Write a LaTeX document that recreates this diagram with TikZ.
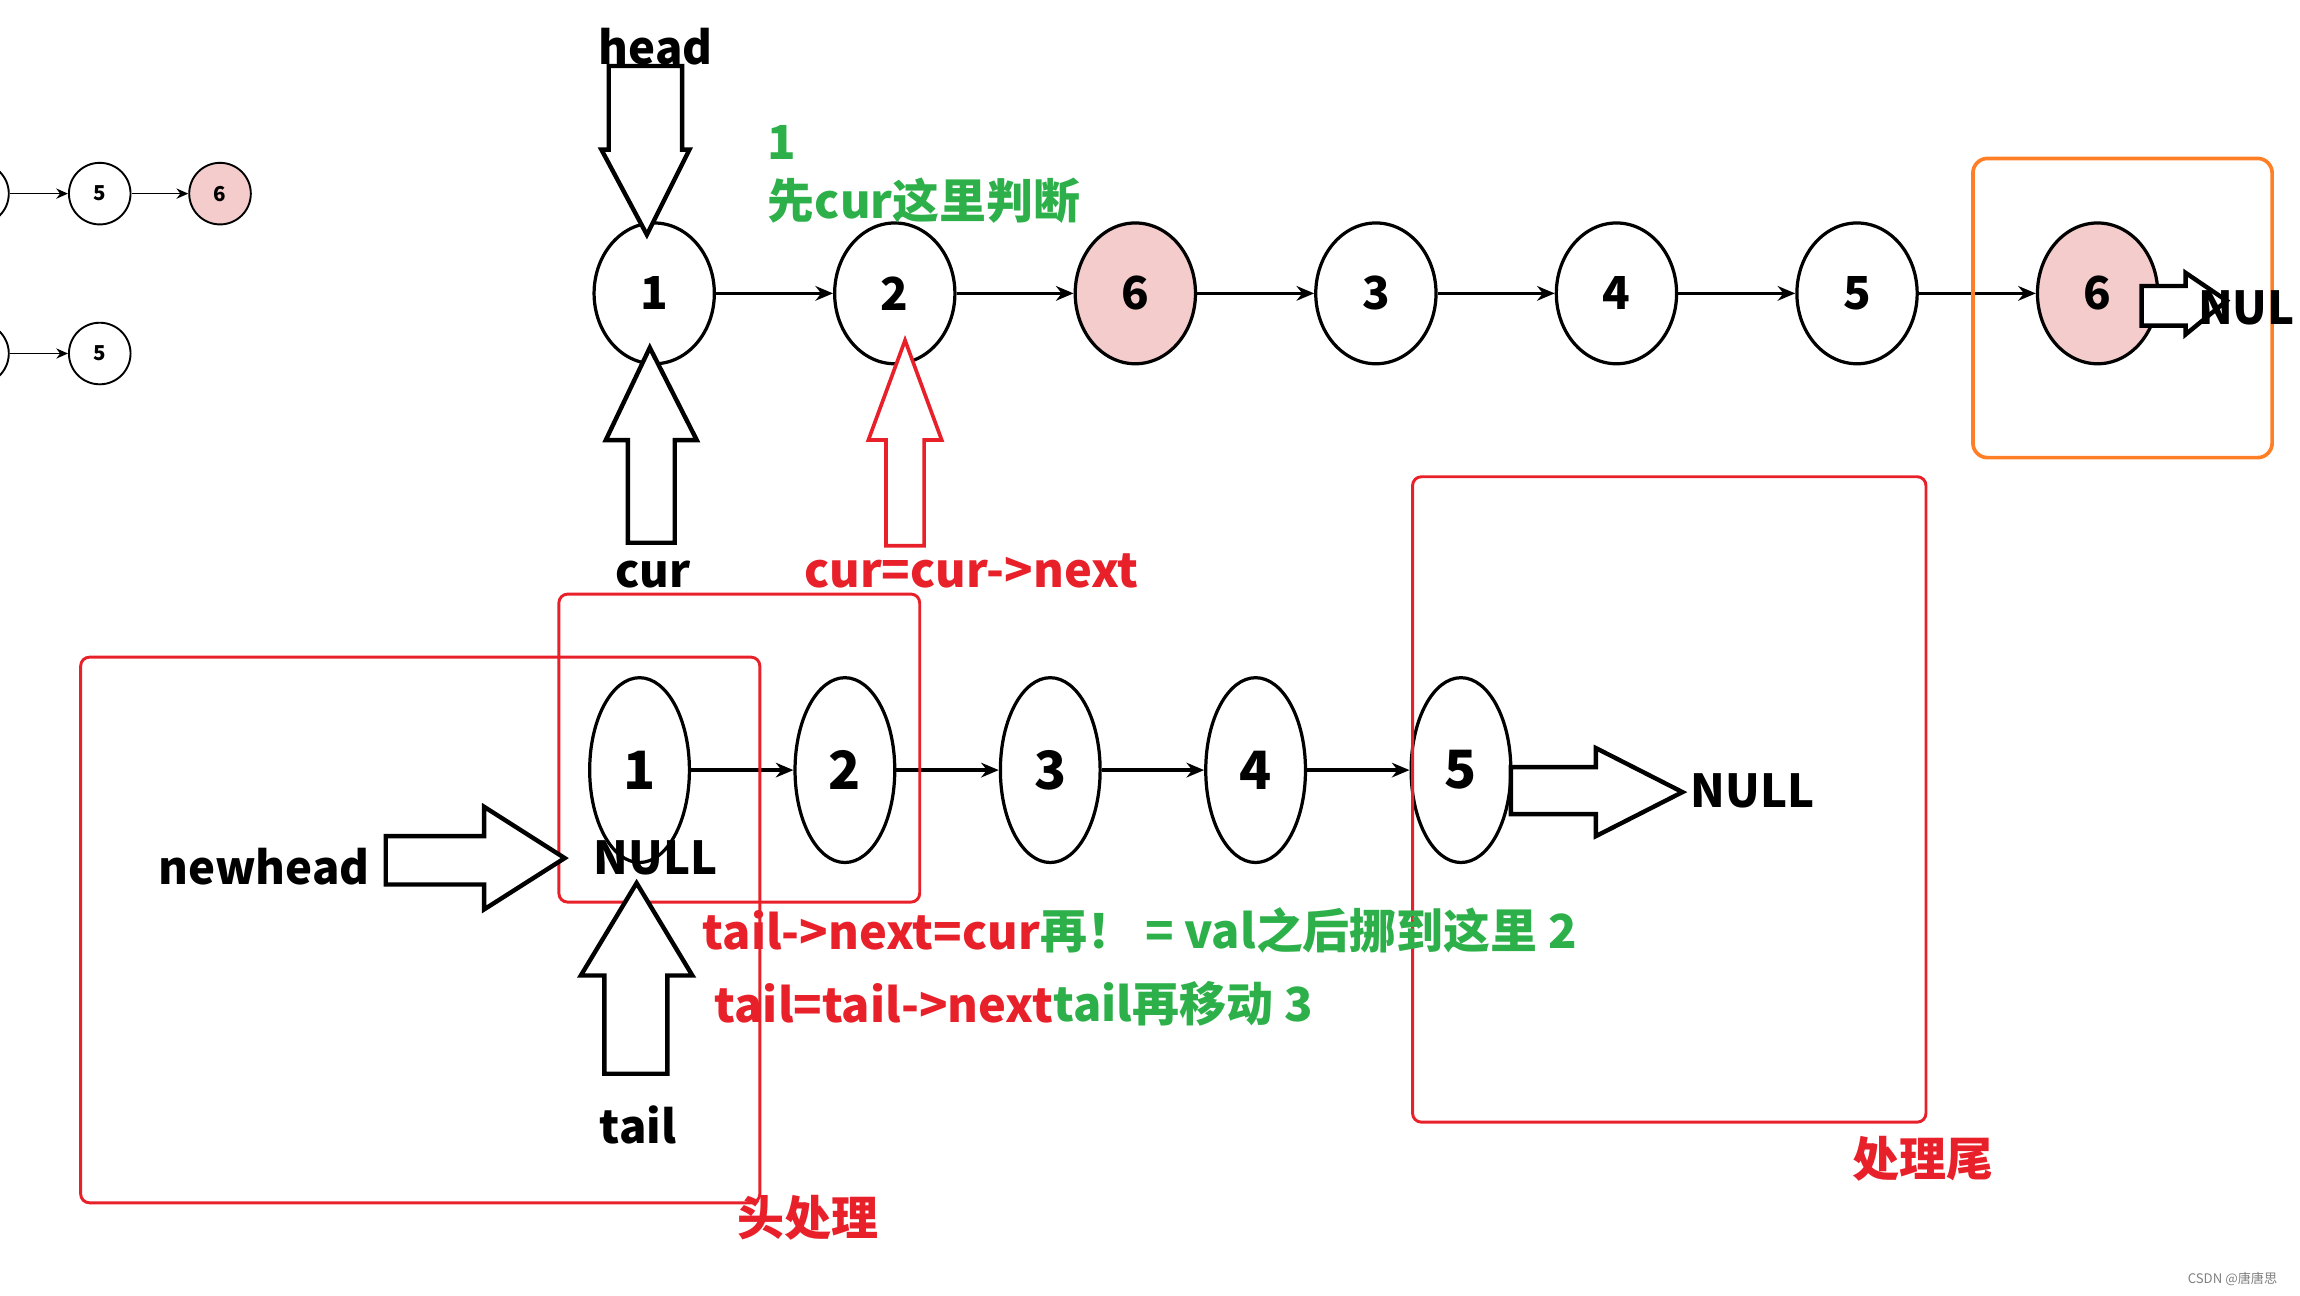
\documentclass[tikz,border=0pt]{standalone}
\usepackage{fontspec}
\setmainfont{Noto Sans CJK SC}
\usetikzlibrary{arrows.meta,shapes.geometric}
\definecolor{grn}{HTML}{2DB04A}
\definecolor{rd}{HTML}{E8202A}
\definecolor{org}{HTML}{FF7F27}
\definecolor{pnk}{HTML}{F4CCCC}
\begin{document}
\begin{tikzpicture}[x=1pt,y=-1pt,
  big/.style={font=\fontsize{31}{35}\selectfont\bfseries},
  node/.style={draw,line width=2.2pt,ellipse,minimum width=82pt,minimum height=96pt,inner sep=0pt,font=\fontsize{31}{35}\selectfont\bfseries},
  bnode/.style={draw,line width=2.2pt,ellipse,minimum width=68pt,minimum height=126pt,inner sep=0pt,font=\fontsize{36}{40}\selectfont\bfseries},
  small/.style={draw,line width=1.3pt,circle,minimum size=42pt,inner sep=0pt,font=\fontsize{14}{16}\selectfont\bfseries},
  link/.style={line width=2pt,-{Stealth[length=12pt,width=10pt]}},
  slink/.style={line width=1pt,-{Stealth[length=8pt,width=7pt]}},
  barrow/.style={draw,line width=3pt,line join=miter,fill=white},
  rbarrow/.style={draw=rd,line width=2.5pt,fill=white},
  rbox/.style={draw=rd,line width=2pt,rounded corners=6pt},
  gt/.style={text=grn,font=\fontsize{32}{36}\selectfont\bfseries},
  rt/.style={text=rd,font=\fontsize{32}{36}\selectfont\bfseries}]
\useasboundingbox (0,0) rectangle (1568,883);
\begin{scope}
\clip (0,0) rectangle (1568,883);
\node[small] (ma) at (-15,132) {};
\node[small] (m5) at (68,132) {5};
\node[small,fill=pnk] (m6) at (150,132) {6};
\node[small] (mb) at (-15,241) {};
\node[small] (n5) at (68,241) {5};
\draw[slink] (ma) -- (m5); \draw[slink] (m5) -- (m6);
\draw[slink] (mb) -- (n5);
\end{scope}
% top list
\node[node] (t1) at (446,200) {1};
\node[node] (t2) at (610,200) {2};
\node[node,fill=pnk] (t3) at (774,200) {6};
\node[node] (t4) at (938,200) {3};
\node[node] (t5) at (1102,200) {4};
\node[node] (t6) at (1266,200) {5};
\node[node,fill=pnk] (t7) at (1430,200) {6};
\foreach \a/\b in {t1/t2,t2/t3,t3/t4,t4/t5,t5/t6,t6/t7} \draw[link] (\a) -- (\b);
% bottom list
\node[bnode] (b1) at (436,525) {1};
\node[bnode] (b2) at (576,525) {2};
\node[bnode] (b3) at (716,525) {3};
\node[bnode] (b4) at (856,525) {4};
\node[bnode] (b5) at (996,525) {5};
\foreach \a/\b in {b1/b2,b2/b3,b3/b4,b4/b5} \draw[link,line width=3pt] (\a) -- (\b);
% boxes
\draw[draw=org,line width=2.5pt,rounded corners=10pt] (1345,108) rectangle (1549,312);
\draw[rbox] (963,325) rectangle (1313,765);
\draw[rbox] (381,405) rectangle (627,615);
\draw[rbox] (55,448) rectangle (518,820);
% block arrows
\draw[barrow] (415,45) -- (465,45) -- (465,102) -- (470,102) -- (441,160) -- (410,102) -- (415,102) -- cycle;
\draw[barrow] (428,370) -- (460,370) -- (460,300) -- (475,300) -- (443,237) -- (413,300) -- (428,300) -- cycle;
\draw[rbarrow] (604,372) -- (630,372) -- (630,300) -- (642,300) -- (617,232) -- (592,300) -- (604,300) -- cycle;
\draw[barrow] (263,570) -- (330,570) -- (330,550) -- (385,585) -- (330,620) -- (330,603) -- (263,603) -- cycle;
\draw[barrow] (412,732) -- (455,732) -- (455,665) -- (472,665) -- (434,602) -- (396,665) -- (412,665) -- cycle;
\draw[barrow] (1030,523) -- (1088,523) -- (1088,510) -- (1147,540) -- (1088,570) -- (1088,555) -- (1030,555) -- cycle;
\draw[barrow] (1460,195) -- (1490,195) -- (1490,186) -- (1518,205) -- (1490,228) -- (1490,222) -- (1460,222) -- cycle;
% texts
\node[big] (head) at (447,32) {head};
\node[big] (cur) at (445,392) {cur};
\node[big] (tail) at (435,767) {tail};
\node[big] (nh) at (180,591) {newhead};
\node[big] (n1) at (447,585) {NULL};
\node[big] (n2) at (1195,539) {NULL};
\node[big,anchor=west] (n3) at (1495,210) {NUL};
\node[gt] (g1) at (533,97) {1};
\node[gt,anchor=west] (g2) at (520,137) {先cur这里判断};
\node[rt,anchor=west,inner sep=0pt] (r1) at (548,389) {cur=cur->next};
\node[rt,anchor=west,inner sep=0pt] (r2) at (479,634) {tail->next=cur};
\node[gt,anchor=west,inner sep=0pt] at (r2.east) {再！ = val之后挪到这里 2};
\node[rt,anchor=west,inner sep=0pt] (r3) at (487,684) {tail=tail->next};
\node[gt,anchor=west,inner sep=0pt] at (r3.east) {tail再移动 3};
\node[rt] (lt) at (1311,790) {处理尾};
\node[rt] (lh) at (551,830) {头处理};
\node[text=gray,font=\fontsize{9}{10}\selectfont] at (1522,872) {CSDN @唐唐思};
\end{tikzpicture}
\end{document}
